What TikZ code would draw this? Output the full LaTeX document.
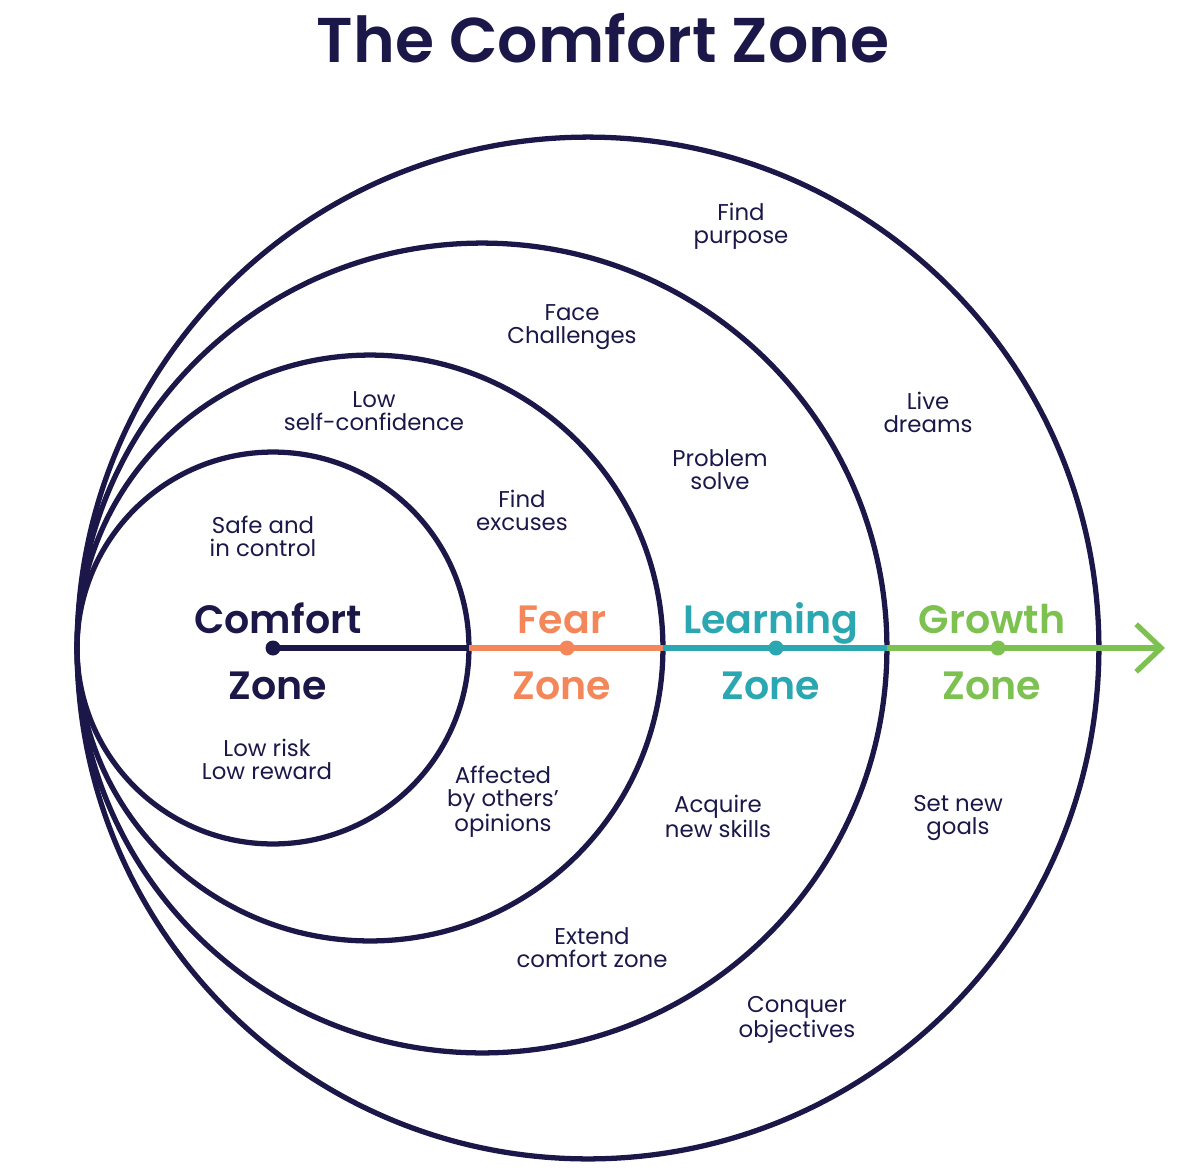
\documentclass[tikz,border=0pt]{standalone}
\usepackage{fontspec}
\setmainfont{Poppins}[BoldFont={Poppins SemiBold}]
\usetikzlibrary{arrows.meta}
\definecolor{navy}{HTML}{1B1849}
\definecolor{zorange}{HTML}{F4875A}
\definecolor{zteal}{HTML}{2BA7B1}
\definecolor{zgreen}{HTML}{7DC250}
\begin{document}
\begin{tikzpicture}[x=0.02cm, y=0.02cm,
    ring/.style={draw=navy, line width=3pt, circle, outer sep=0pt, inner sep=0pt},
    axis/.style={line width=3pt},
    dot/.style={circle, inner sep=0pt, minimum size=0.3cm},
    zone/.style={anchor=base, font=\fontsize{22.5}{24}\selectfont\bfseries},
    note/.style={align=center, text=navy, font=\fontsize{13}{13}\selectfont}]

  \useasboundingbox (0,0) rectangle (1204,-1174);
  \node[font=\fontsize{36}{38}\selectfont\bfseries, text=navy] (title) at (603,-38) {The Comfort Zone};

  \node[ring, minimum size=20.44cm] (G) at (588,-648) {};
  \node[ring, minimum size=16.2cm]  (L) at (482,-648) {};
  \node[ring, minimum size=11.72cm] (F) at (370,-648) {};
  \node[ring, minimum size=7.84cm]  (C) at (273,-648) {};

  \coordinate (tip) at (1165,-648);
  \draw[axis, navy]    (C.center) -- (C.east);
  \draw[axis, zorange] (C.east) -- (F.east);
  \draw[axis, zteal]   (F.east) -- (L.east);
  \draw[axis, zgreen, -{Straight Barb[length=0.5cm, width=0.95cm]}] (L.east) -- (tip);

  \foreach \x/\col/\n in {273/navy/cd, 567/zorange/fd, 776/zteal/ld, 998/zgreen/gd}
    \node[dot, fill=\col] (\n) at (\x,-648) {};

  \foreach \x/\name/\col in {278/Comfort/navy, 562/Fear/zorange, 771/Learning/zteal, 992/Growth/zgreen} {
    \node[zone, text=\col] (\name-top) at (\x,-633) {\name};
    \node[zone, text=\col] (\name-bot) at (\x,-699) {Zone};
  }

  \node[note] (purpose)  at (741,-226)  {Find\\purpose};
  \node[note] (face)     at (572,-327)  {Face\\Challenges};
  \node[note] (lowconf)  at (374,-411)  {Low\\self-confidence};
  \node[note] (dreams)   at (928,-412)  {Live\\dreams};
  \node[note] (problem)  at (720,-470)  {Problem\\solve};
  \node[note] (excuses)  at (522,-510)  {Find\\excuses};
  \node[note] (safe)     at (263,-536)  {Safe and\\in control};
  \node[note] (risk)     at (267,-759)  {Low risk\\Low reward};
  \node[note] (affected) at (503,-802)  {Affected\\by others’\\opinions};
  \node[note] (skills)   at (718,-816)  {Acquire\\new skills};
  \node[note] (goals)    at (958,-818)  {Set new\\goals};
  \node[note] (extend)   at (592,-948)  {Extend\\comfort zone};
  \node[note] (conquer)  at (797,-1020) {Conquer\\objectives};
\end{tikzpicture}
\end{document}
